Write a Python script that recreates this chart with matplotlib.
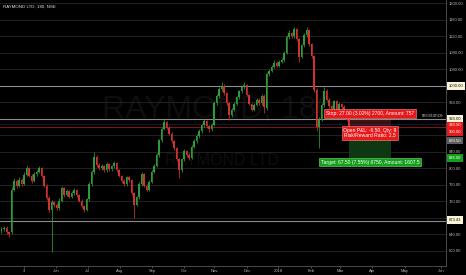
import matplotlib
matplotlib.use('Agg')
import matplotlib.pyplot as plt
import matplotlib.transforms as mtransforms
import numpy as np

plt.rcParams['font.family'] = ['Liberation Sans', 'DejaVu Sans']

title = "RAYMOND LTD, 180, NSE"

opens = [648, 652, 656, 646, 645, 748, 770, 758, 772, 762,
         785, 800, 782, 770, 786, 792, 801, 782, 758, 728,
         700, 718, 712, 704, 722, 752, 736, 744, 731, 740,
         748, 735, 722, 708, 700, 725, 762, 790, 828, 808,
         800, 806, 796, 810, 798, 805, 812, 795, 782, 770,
         762, 778, 772, 740, 712, 730, 762, 786, 758, 748,
         768, 792, 806, 832, 868, 896, 912, 898, 884, 866,
         848, 822, 796, 822, 842, 832, 826, 852, 866, 878,
         890, 904, 915, 902, 894, 906, 958, 975, 992, 1000,
         982, 958, 928, 942, 956, 972, 986, 996, 1002, 978,
         956, 942, 954, 966, 958, 976, 945, 1028, 1036, 1046,
         1056, 1048, 1058, 1062, 1080, 1118, 1128, 1120, 1136, 1112,
         1070, 1098, 1122, 1134, 1100, 1072, 990, 900, 918, 952,
         988, 966, 950, 944, 962, 942, 956, 948, 938, 918]

highs = [658, 661, 660, 649, 754, 776, 775, 778, 776, 790,
         808, 803, 786, 790, 797, 806, 804, 785, 762, 732,
         724, 722, 716, 727, 757, 755, 749, 747, 744, 753,
         751, 738, 726, 711, 729, 766, 795, 839, 832, 812,
         811, 809, 815, 813, 809, 817, 815, 798, 785, 773,
         782, 781, 775, 743, 734, 766, 790, 788, 761, 772,
         796, 810, 836, 872, 900, 920, 915, 902, 887, 869,
         851, 825, 826, 846, 845, 836, 856, 870, 882, 894,
         908, 919, 918, 905, 910, 964, 980, 997, 1008, 1003,
         985, 961, 946, 960, 976, 990, 1000, 1008, 1005, 981,
         959, 958, 970, 969, 980, 979, 1034, 1041, 1050, 1061,
         1060, 1063, 1068, 1085, 1122, 1134, 1131, 1142, 1139, 1115,
         1102, 1127, 1142, 1137, 1104, 1075, 994, 924, 957, 997,
         991, 970, 954, 966, 965, 960, 959, 952, 941, 921]

lows = [644, 649, 642, 633, 640, 744, 752, 754, 758, 759,
        781, 778, 765, 767, 782, 788, 778, 754, 724, 694,
        597, 706, 699, 700, 719, 731, 733, 727, 727, 736,
        731, 718, 703, 694, 697, 722, 758, 786, 803, 795,
        796, 792, 792, 794, 794, 801, 791, 778, 765, 757,
        758, 768, 735, 680, 708, 726, 758, 754, 744, 745,
        764, 788, 802, 828, 864, 892, 894, 880, 861, 844,
        818, 776, 792, 818, 828, 821, 822, 848, 862, 874,
        886, 900, 898, 889, 890, 903, 954, 971, 988, 978,
        954, 917, 924, 938, 952, 968, 982, 992, 974, 952,
        938, 938, 950, 954, 954, 935, 942, 1024, 1032, 1042,
        1044, 1045, 1054, 1058, 1076, 1113, 1115, 1116, 1107, 1058,
        1066, 1094, 1118, 1096, 1068, 985, 890, 850, 914, 948,
        962, 945, 939, 940, 938, 938, 944, 934, 914, 896]

closes = [652, 656, 646, 640, 748, 770, 758, 772, 762, 785,
          800, 782, 770, 786, 792, 801, 782, 758, 728, 700,
          718, 712, 704, 722, 752, 736, 744, 731, 740, 748,
          735, 722, 708, 700, 725, 762, 790, 828, 808, 800,
          806, 796, 810, 798, 805, 812, 795, 782, 770, 762,
          778, 772, 740, 712, 730, 762, 786, 758, 748, 768,
          792, 806, 832, 868, 896, 912, 898, 884, 866, 848,
          822, 796, 822, 842, 832, 826, 852, 866, 878, 890,
          904, 915, 902, 894, 906, 958, 975, 992, 1000, 982,
          958, 928, 942, 956, 972, 986, 996, 1002, 978, 956,
          942, 954, 966, 958, 976, 948, 1028, 1036, 1046, 1056,
          1048, 1058, 1062, 1080, 1118, 1128, 1120, 1136, 1112, 1070,
          1098, 1122, 1134, 1100, 1072, 990, 900, 918, 952, 988,
          966, 950, 944, 962, 942, 956, 948, 938, 918, 900]

month_labels = ['3', 'Jun', 'Jul', 'Aug', 'Sep', 'Oct', 'Nov', 'Dec',
                '2018', 'Feb', 'Mar', 'Apr', 'May', 'Jun']
month_pos = [8.9, 21.9, 34.6, 47.4, 60.2, 73.0, 85.0, 98.2,
             110.6, 123.8, 135.4, 148.2, 161.4, 175.8]

price_ticks = list(range(600, 1201, 40))
level_high = 1000.0
resistance = 920.0
level_low = 673.43
prev_line = 908.0
last_price = 900.0
entry = 893.5
stop = 920.5
target = 826.0
pos_start = 139.0
pos_end = 155.8
stop_text = "Stop: 27.00 (3.02%) 2700, Amount: 757"
pnl_text = "Open P&L: -6.50, Qty: 9\nRisk/Reward Ratio: 2.5"
target_text = "Target: 67.50 (7.55%) 6750, Amount: 1607.5"

# axis price-label boxes: (text, display level, face, text colour)
axis_boxes = [
    ("1000.00", 999.0, '#fbf3d5', '#111111'),
    ("920.00", 920.0, '#fbf3d5', '#111111'),
    ("920.50", 903.6, '#e8191b', '#ffffff'),
    ("900.00", 887.8, '#e8191b', '#ffffff'),
    ("893.50", 867.3, '#5e5e5e', '#ffffff'),
    ("826.00", 825.0, '#12a01b', '#ffffff'),
    ("673.43", 674.9, '#fbf3d5', '#111111'),
]

fig = plt.figure(figsize=(4.66, 2.75), dpi=100, facecolor='black')
ax = fig.add_axes([0, 9 / 275, 446 / 466, 266 / 275])
ax.set_facecolor('black')
ax.set_xlim(-0.6, 177.8)
ax.set_ylim(563.6, 1207.3)

# grid
ax.set_yticks(price_ticks)
ax.set_yticklabels(['' if p in (880, 680) else f'{p:.2f}' for p in price_ticks])
ax.grid(axis='y', color='#222222', lw=0.7)
ax.set_axisbelow(True)

# watermark
ax.text(86.5, 941, 'RAYMOND, 180', fontsize=23, color='#0e0e0e', ha='center',
        va='center', zorder=0)
ax.text(88.2, 820, 'RAYMOND LTD', fontsize=11.5, color='#0e0e0e', ha='center',
        va='center', zorder=0)

# candles
o = np.array(opens, float)
h = np.array(highs, float)
l = np.array(lows, float)
c = np.array(closes, float)
x = np.arange(len(c))
up = c >= o
cols = np.where(up, '#2f9a38', '#d0332b')
ax.vlines(x, l, h, colors=cols, lw=0.55, zorder=3)
ax.bar(x, np.maximum(np.abs(c - o), 0.8), bottom=np.minimum(o, c), width=0.62,
       color=cols, lw=0, zorder=3)

# horizontal drawings
ax.axhline(level_high, color='#8c8c8c', lw=0.8, zorder=2)
ax.axhline(resistance, color='#8c8c8c', lw=0.8, zorder=2)
ax.axhline(level_low, color='#8c8c8c', lw=0.8, zorder=2)
ax.axhline(prev_line, color='#27398a', lw=0.6, ls=(0, (1, 1)), zorder=2)
ax.axhline(last_price, color='#7e1414', lw=0.8, zorder=2)

# position tool
ax.fill_between([pos_start, pos_end], entry, stop, color='#3a0f0f', lw=0, zorder=1)
ax.fill_between([pos_start, pos_end], target, entry, color='#0f3812', lw=0, zorder=1)
pc = (pos_start + pos_end) / 2
ax.text(pc, 932.6, stop_text, fontsize=3.6, color='white', ha='center', va='center',
        zorder=5, bbox=dict(boxstyle='square,pad=0.35', fc='#e8191b', ec='#ff9090', lw=0.4))
ax.text(pc, 885.4, pnl_text, fontsize=3.6, color='white', ha='center', va='center',
        linespacing=1.1, zorder=5,
        bbox=dict(boxstyle='square,pad=0.35', fc='#e8191b', ec='#ff9090', lw=0.4))
ax.text(pc, 815.2, target_text, fontsize=3.6, color='white', ha='center', va='center',
        zorder=5, bbox=dict(boxstyle='square,pad=0.35', fc='#12a01b', ec='#80e080', lw=0.4))
ax.text(176.8, 929, 'resistance', fontsize=3.3, color='#a8a8a8', ha='right', va='center',
        zorder=5)

# axis label boxes
tr = mtransforms.blended_transform_factory(ax.transAxes, ax.transData)
for txt, lvl, fc, tc in axis_boxes:
    ax.text(1.0 + 2.5 / 446, lvl, txt, transform=tr, fontsize=3.0, color=tc,
            ha='left', va='center', clip_on=False, zorder=6,
            bbox=dict(boxstyle='square,pad=0.45', fc=fc, ec='none'))

# axes styling
ax.yaxis.tick_right()
ax.tick_params(axis='y', labelsize=3.0, labelcolor='#b8b8b8', length=0, pad=1.8)
ax.set_xticks(month_pos)
ax.set_xticklabels(month_labels)
ax.tick_params(axis='x', labelsize=3.0, labelcolor='#b8b8b8', length=1.5,
               color='#666666', width=0.5, pad=1.0)
for s in ('left', 'top'):
    ax.spines[s].set_visible(False)
for s in ('right', 'bottom'):
    ax.spines[s].set_color('#555555')
    ax.spines[s].set_linewidth(0.6)

fig.text(3 / 466, 1 - 7 / 275, title, fontsize=3.2, color='#e0e0e0', ha='left',
         va='center')

fig.savefig('out.png', dpi=100, facecolor='black')
